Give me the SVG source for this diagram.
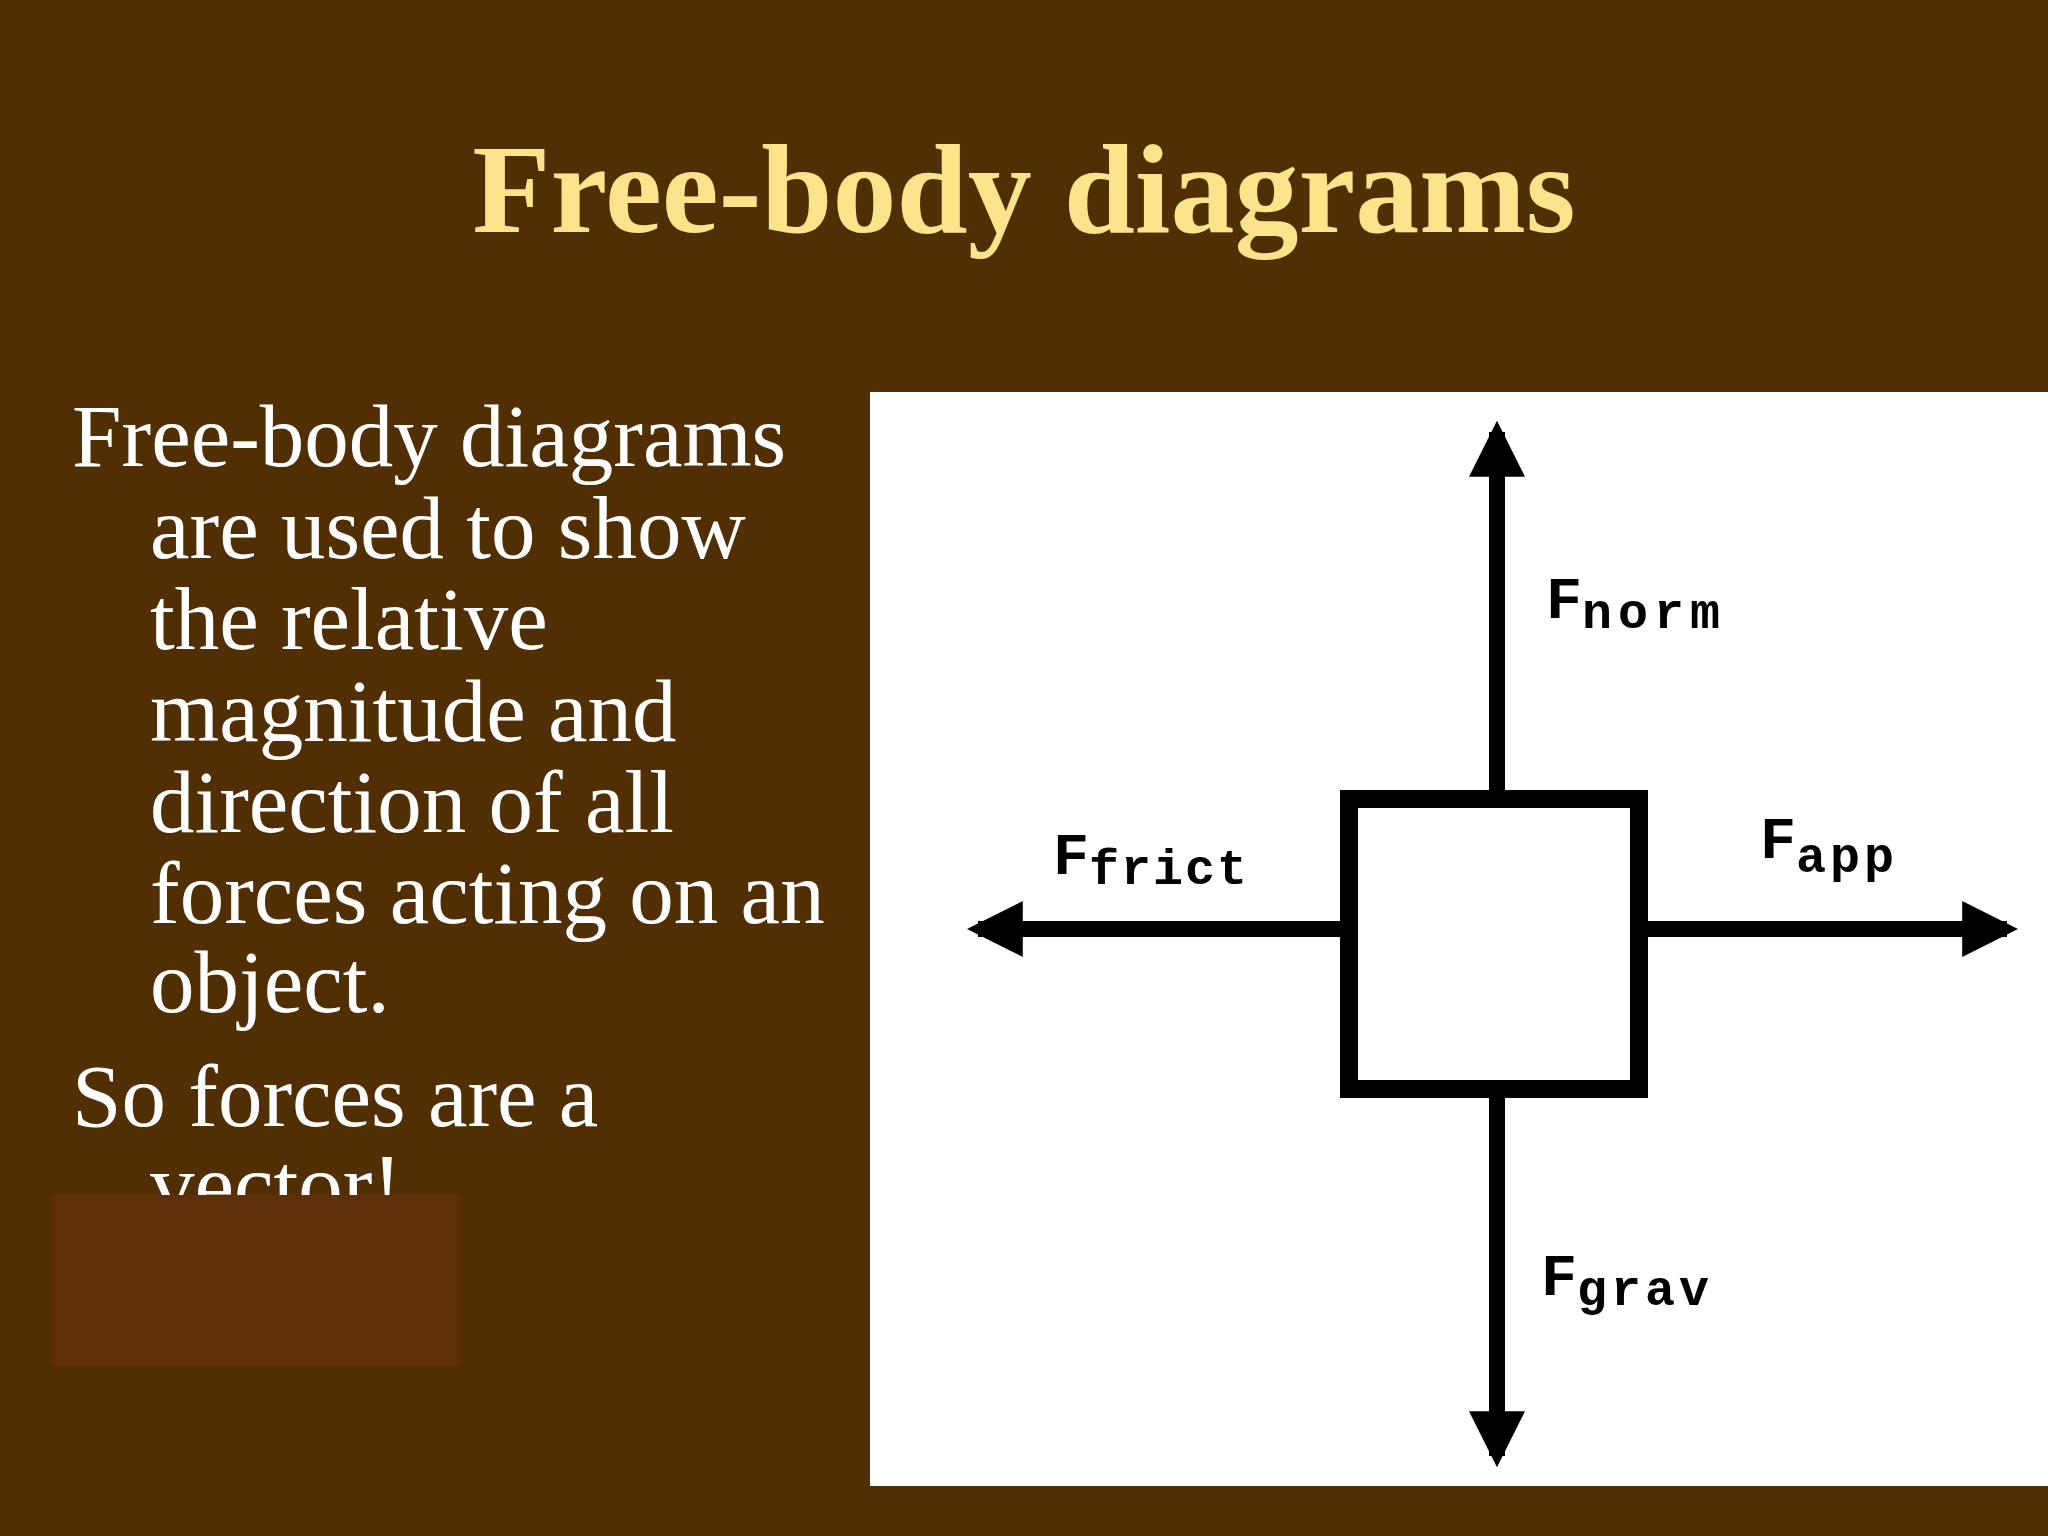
<svg xmlns="http://www.w3.org/2000/svg" width="2048" height="1536" viewBox="0 0 2048 1536">
<style>
.body{font-family:"Liberation Serif",serif;font-size:89px;fill:#ffffff}
.lbl{font-family:"Liberation Mono","DejaVu Sans Mono",monospace;font-weight:bold;fill:#000}
.big{font-size:60px}
.sm{font-size:50px}
.ln{stroke:#000;stroke-width:16;fill:none}
</style>
<defs>
<marker id="ah" viewBox="0 0 10 10" refX="8" refY="5" markerWidth="3.5" markerHeight="4" orient="auto" markerUnits="strokeWidth">
<path d="M0,0 L10,5 L0,10 Z" fill="#000"/>
</marker>
</defs>
<rect width="2048" height="1536" fill="#512e03"/>
<text x="1024" y="232" text-anchor="middle" font-family="Liberation Serif,serif" font-weight="bold" font-size="128" fill="#ffe38a">Free-body diagrams</text>
<g id="bodytext" class="body">
<text x="72" y="466">Free-body diagrams</text>
<text x="150" y="558">are used to show</text>
<text x="150" y="649">the relative</text>
<text x="150" y="741">magnitude and</text>
<text x="150" y="832">direction of all</text>
<text x="150" y="923">forces acting on an</text>
<text x="150" y="1012">object.</text>
<text x="72" y="1126">So forces are a</text>
<text x="150" y="1215">vector!</text>
</g>
<rect x="52" y="1195" width="408" height="170" fill="#5e2f08"/>
<rect x="870" y="392" width="1178" height="1094" fill="#ffffff"/>
<g id="connectors">
<line class="ln" x1="1497" y1="790" x2="1497" y2="432" marker-end="url(#ah)"/>
<line class="ln" x1="1497" y1="1098" x2="1497" y2="1456" marker-end="url(#ah)"/>
<line class="ln" x1="1340" y1="929" x2="978" y2="929" marker-end="url(#ah)"/>
<line class="ln" x1="1648" y1="929" x2="2007" y2="929" marker-end="url(#ah)"/>
</g>
<g id="box"><rect x="1349" y="799" width="290" height="290" fill="#fff" stroke="#000" stroke-width="18"/></g>
<g id="fnorm"><text class="lbl" x="1546" y="628"><tspan class="big" dy="-10">F</tspan><tspan class="sm" dy="10" letter-spacing="6">norm</tspan></text></g>
<g id="ffrict"><text class="lbl" x="1053" y="884"><tspan class="big" dy="-10">F</tspan><tspan class="sm" dy="10" letter-spacing="2">frict</tspan></text></g>
<g id="fapp"><text class="lbl" x="1760" y="872"><tspan class="big" dy="-14">F</tspan><tspan class="sm" dy="14" letter-spacing="4">app</tspan></text></g>
<g id="fgrav"><text class="lbl" x="1541" y="1305"><tspan class="big" dy="-10">F</tspan><tspan class="sm" dy="10" letter-spacing="4">grav</tspan></text></g>
</svg>
